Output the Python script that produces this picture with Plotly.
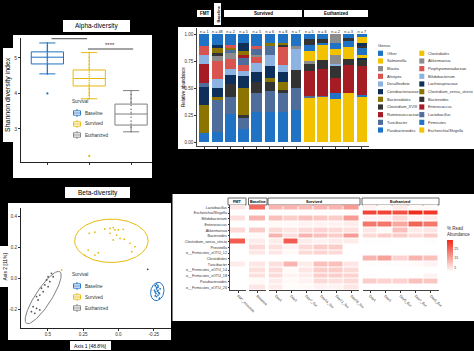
import numpy as np
import plotly.graph_objects as go

W, H = 474, 351
def px(x): return x / W
def py(y): return 1 - y / H

FONT = "Liberation Sans, Arial, sans-serif"

# ---------------- Alpha diversity (box plot) ----------------
alpha_groups = ["Baseline", "Survived", "Euthanized"]
alpha_colors = ["#1f72c4", "#e8b90c", "#7f7f7f"]
alpha_lower = [4.55, 3.85, 2.92]
alpha_q1 = [4.83, 4.21, 3.11]
alpha_median = [5.02, 4.42, 3.42]
alpha_q3 = [5.17, 4.66, 3.70]
alpha_upper = [5.42, 5.15, 4.08]
alpha_out_baseline = [4.0]
alpha_out_survived = [2.24]
alpha_out_euth = []
alpha_pts_baseline = [5.42, 5.35, 5.3, 5.25, 5.2, 5.17, 5.12, 5.08, 5.05, 5.02, 5.0, 4.97,
                      4.93, 4.88, 4.83, 4.78, 4.72, 4.66, 4.6, 4.55]
alpha_pts_survived = [5.15, 5.02, 4.92, 4.82, 4.72, 4.66, 4.6, 4.53, 4.47, 4.42, 4.37, 4.3,
                      4.25, 4.21, 4.12, 4.02, 3.95, 3.85]
alpha_pts_euth = [4.08, 3.97, 3.86, 3.75, 3.66, 3.55, 3.47, 3.42, 3.33, 3.22, 3.14, 3.05, 2.92]

# ---------------- Beta diversity (PCoA) ----------------
beta_surv_x = [0.207, 0.167, 0.096, 0.060, 0.037, 0.025, 0.001, -0.034, 0.060, 0.013, -0.011,
               -0.041, -0.082, -0.117, -0.094, 0.214, 0.167, 0.143, 0.037, 0.238, 0.403]
beta_surv_y = [0.288, 0.295, 0.316, 0.320, 0.325, 0.310, 0.310, 0.314, 0.288, 0.277, 0.256,
               0.250, 0.224, 0.202, 0.170, 0.180, 0.148, 0.163, 0.245, 0.148, 0.052]
beta_euth_x = [0.474, 0.462, 0.509, 0.486, 0.521, 0.498, 0.545, 0.557, 0.580, 0.569, 0.604,
               0.580, 0.616, 0.557, 0.592, 0.533, 0.498]
beta_euth_y = [0.030, 0.008, -0.013, -0.024, -0.045, -0.056, -0.066, -0.110, -0.120, -0.142,
               -0.185, -0.196, -0.217, -0.206, -0.228, -0.088, 0.008]
beta_base_x = [-0.26, -0.27, -0.28, -0.29, -0.27, -0.26, -0.28, -0.295, -0.27, -0.255, -0.29,
               -0.28, -0.265, -0.275, -0.285, -0.27, -0.26, -0.28]
beta_base_y = [-0.05, -0.06, -0.08, -0.10, -0.12, -0.09, -0.11, -0.07, -0.04, -0.08, -0.13,
               -0.06, -0.10, -0.085, -0.095, -0.07, -0.115, -0.05]
beta_fmt_x = [-0.207]
beta_fmt_y = [0.056]
ell_cx = [-0.275, 0.05, 0.533]
ell_cy = [-0.087, 0.24, -0.126]
ell_ax = [-0.015, 0.26, -0.118]
ell_ay = [0.058, 0.0, 0.1665]
ell_bx = [0.045, 0.0, -0.048]
ell_by = [0.010, 0.14, -0.028]

# ---------------- Stacked bars (relative abundance) ----------------
bar_n_labels = ["n = 1", "n = 48", "n = 2", "n = 5", "n = 5", "n = 6", "n = 8", "n = 7",
                "n = 5", "n = 6", "n = 2", "n = 3", "n = 7"]
genera = ["Other", "Salmonella", "Blautia", "Alistipes", "Desulfovibrio", "Coriobacteriaceae",
          "Bacteroidales", "Clostridium_XVIII", "Ruminococcaceae", "Turicibacter", "Parabacteroides",
          "Clostridiales", "Akkermansia", "Porphyromonadaceae", "Bifidobacterium", "Lachnospiraceae",
          "Clostridium_sensu_stricto", "Bacteroides", "Enterococcus", "Lactobacillus", "Firmicutes",
          "Escherichia/Shigella"]
palette = ["#1f72c4", "#f2c200", "#8c8c8c", "#d9534f", "#8db3e2", "#0e2f5a",
           "#8b7500", "#333333", "#a61c24", "#4f6d9a"]
g_other = [0.11, 0.10, 0.10, 0.08, 0.11, 0.08, 0.08, 0.11, 0.05, 0.05, 0.00, 0.04, 0.03]
g_salmonella = [0, 0, 0, 0, 0, 0, 0, 0, 0, 0, 0, 0, 0.05]
g_blautia = [0, 0, 0, 0, 0, 0, 0, 0, 0, 0, 0.08, 0, 0]
g_alistipes = [0.08, 0, 0.03, 0, 0.03, 0, 0, 0, 0, 0, 0, 0, 0]
g_desulfovibrio = [0.09, 0, 0, 0, 0, 0, 0, 0, 0, 0, 0, 0, 0]
g_coriobacteriaceae = [0, 0.03, 0, 0.08, 0, 0, 0, 0, 0, 0, 0, 0, 0.03]
g_bacteroidales = [0, 0.05, 0.02, 0.03, 0, 0.03, 0.02, 0, 0, 0, 0, 0, 0]
g_clostridium_xviii = [0, 0.02, 0, 0, 0, 0, 0.02, 0, 0.05, 0.03, 0, 0.02, 0.02]
g_ruminococcaceae = [0.17, 0, 0, 0.03, 0, 0, 0, 0, 0, 0, 0, 0, 0]
g_turicibacter = [0.04, 0, 0.03, 0.07, 0.05, 0.08, 0, 0, 0, 0, 0, 0, 0]
g_parabacteroides = [0, 0, 0, 0, 0, 0, 0, 0, 0.06, 0.02, 0.06, 0.06, 0.06]
g_clostridiales = [0, 0, 0, 0, 0, 0, 0, 0, 0.09, 0.14, 0.05, 0.11, 0.03]
g_akkermansia = [0, 0.05, 0.05, 0, 0.02, 0, 0, 0.03, 0.03, 0, 0.09, 0, 0]
g_porphyromonadaceae = [0, 0.17, 0.09, 0.05, 0.06, 0, 0.17, 0, 0, 0, 0, 0, 0]
g_bifidobacterium = [0, 0.08, 0.06, 0.05, 0.08, 0.11, 0.06, 0.19, 0, 0, 0.02, 0, 0]
g_lachnospiraceae = [0.17, 0.08, 0.08, 0.11, 0.09, 0.11, 0.09, 0, 0, 0, 0, 0, 0.02]
g_clostridium_ss = [0.26, 0.03, 0, 0.25, 0, 0.03, 0.08, 0, 0, 0, 0, 0, 0]
g_bacteroides = [0, 0, 0.12, 0.03, 0.11, 0.09, 0.03, 0.17, 0.06, 0.08, 0.11, 0.06, 0.06]
g_enterococcus = [0, 0, 0, 0, 0, 0, 0, 0, 0.23, 0.25, 0.14, 0.26, 0.26]
g_lactobacillus = [0, 0.30, 0.16, 0.10, 0.17, 0.19, 0.17, 0.20, 0.02, 0.01, 0, 0, 0]
g_firmicutes = [0.08, 0.09, 0.26, 0.12, 0.28, 0.28, 0.28, 0.30, 0, 0, 0.05, 0, 0.02]
g_escherichia = [0, 0, 0, 0, 0, 0, 0, 0, 0.41, 0.42, 0.40, 0.45, 0.42]
genus_values = [g_other, g_salmonella, g_blautia, g_alistipes, g_desulfovibrio, g_coriobacteriaceae,
                g_bacteroidales, g_clostridium_xviii, g_ruminococcaceae, g_turicibacter, g_parabacteroides,
                g_clostridiales, g_akkermansia, g_porphyromonadaceae, g_bifidobacterium, g_lachnospiraceae,
                g_clostridium_ss, g_bacteroides, g_enterococcus, g_lactobacillus, g_firmicutes, g_escherichia]
bar_groups = ["FMT", "Baseline", "Survived", "Euthanized"]

# ---------------- Heatmap (% read abundance) ----------------
heat_rows = ["Lactobacillus", "Escherichia/Shigella", "Bifidobacterium", "Enterococcus", "Akkermansia",
             "Bacteroides", "Clostridium_sensu_stricto", "Prevotella", "o__Firmicutes_zOTU_12",
             "Clostridiales", "Turicibacter", "o__Firmicutes_zOTU_14", "o__Firmicutes_zOTU_18",
             "Parabacteroides", "o__Firmicutes_zOTU_26"]
heat_cols_fmt = ["FMT_inoculum"]
heat_cols_base = ["Baseline"]
heat_cols_surv = ["Day1", "Day3", "Day7_Sur", "Day14_Sur", "Day21_Sur", "Day28_Sur"]
heat_cols_euth = ["Day1", "Day3", "Day5_Eut", "Day7_Eut", "Day9_Eut"]
h_lactobacillus = [4, 24, 12, 12, 11, 12, 12, 16, 2, 1, 3, 1, 1]
h_escherichia = [0, 0, 0.5, 0.5, 0.5, 0.5, 0.5, 0.5, 30, 30, 28, 34, 32]
h_bifidobacterium = [5, 12, 10, 8, 10, 9, 8, 16, 2, 2, 6, 2, 3]
h_enterococcus = [0, 0, 1, 1, 2, 2, 2, 3, 22, 22, 14, 25, 22]
h_akkermansia = [6, 8, 6, 4, 6, 7, 6, 5, 4, 1, 10, 3, 4]
h_bacteroides = [0, 1, 12, 5, 12, 10, 8, 16, 6, 8, 8, 6, 8]
h_clostridium_ss = [26, 3, 3, 26, 3, 2, 3, 3, 0.5, 0.5, 0, 0, 0.5]
h_prevotella = [0, 6, 5, 2, 6, 8, 8, 0, 0, 0, 0, 0, 0]
h_zotu12 = [0, 4, 4, 1, 6, 7, 6, 0, 0, 0, 0, 0, 0.5]
h_clostridiales = [0, 0, 0, 0, 0, 0, 0, 0, 12, 15, 7, 12, 10]
h_turicibacter = [3, 4, 5, 12, 3, 10, 10, 4, 0.5, 0.5, 0.5, 1, 2]
h_zotu14 = [0, 5, 6, 1, 4, 8, 8, 6, 0, 0, 0, 0, 0]
h_zotu18 = [0, 5, 6, 2, 3, 8, 8, 7, 0.5, 0, 0, 0, 2]
h_parabacteroides = [0, 1, 3, 1, 2, 6, 5, 6, 8, 7, 7, 10, 9]
h_zotu26 = [0, 4, 3, 0.5, 1, 2, 2, 4, 0, 0, 0, 0, 0]
heat_matrix = [h_lactobacillus, h_escherichia, h_bifidobacterium, h_enterococcus, h_akkermansia,
               h_bacteroides, h_clostridium_ss, h_prevotella, h_zotu12, h_clostridiales,
               h_turicibacter, h_zotu14, h_zotu18, h_parabacteroides, h_zotu26]
heat_tickvals = [5, 15, 25]

# =========================================================
fig = go.Figure()
shapes = []
annotations = []

def rect(x0, y0, x1, y1, fill="white", line=None, lw=0.0):
    shapes.append(dict(type="rect", xref="paper", yref="paper", x0=px(x0), x1=px(x1),
                       y0=py(y1), y1=py(y0), fillcolor=fill, layer="below",
                       line=dict(color=line or fill, width=lw)))

def text(t, x, y, size, xa="center", ya="middle", angle=0, color="black", bold=False):
    if bold:
        t = "<b>" + t + "</b>"
    annotations.append(dict(text=t, x=px(x), y=py(y), xref="paper", yref="paper",
                            xanchor=xa, yanchor=ya, showarrow=False, textangle=angle,
                            font=dict(size=size, color=color, family=FONT), borderpad=0))

# ---- panels / label boxes ----
rect(13, 35, 152, 178)                      # alpha panel
rect(63, 20, 130, 32)
text("Alpha-diversity", 96.5, 26, 6.5)
rect(3, 48, 13, 142)
text("Shannon diversity index", 8, 95, 7, angle=-90)

rect(178, 27, 474, 149)                     # bars panel
rect(197, 10, 211, 17); text("FMT", 204, 13.5, 4.5, bold=True)
rect(214, 3, 221, 25); text("Baseline", 217.5, 14, 4, angle=-90, bold=True)
rect(224, 10, 302, 17); text("Survived", 263, 13.5, 4.5, bold=True)
rect(304, 10, 368, 17); text("Euthanized", 336, 13.5, 4.5, bold=True)
text("Relative abundance", 183, 87, 4.5, angle=-90)

rect(8, 203, 171, 340)                      # beta panel
rect(65, 187, 130, 198)
text("Beta-diversity", 97.5, 192.5, 6.5)
rect(0, 246, 8, 287)
text("Axis 2 [11%]", 4, 266.5, 5, angle=-90)
rect(70, 341, 111, 350)
text("Axis 1 [48.8%]", 90.5, 345.5, 5)

rect(172.5, 194, 474, 321)                  # heatmap panel
for lab, x0, x1 in [("FMT", 228, 246), ("Baseline", 248.5, 267), ("Survived", 268, 360),
                    ("Euthanized", 362, 439)]:
    rect(x0, 198, x1, 205, fill="white", line="#444444", lw=0.8)
    text(lab, (x0 + x1) / 2, 201.5, 3.8, bold=True)

# ---- legends for alpha / beta ----
def box_legend(top_y, ys):
    text("Survival", 71, top_y, 4.6, xa="left", color="#333333")
    for i, g in enumerate(alpha_groups):
        c = alpha_colors[i]
        yc = ys[i]
        shapes.append(dict(type="rect", xref="paper", yref="paper", x0=px(73.5), x1=px(80.5),
                           y0=py(yc + 2.2), y1=py(yc - 2.2), line=dict(color=c, width=0.9),
                           fillcolor="white"))
        shapes.append(dict(type="line", xref="paper", yref="paper", x0=px(73.5), x1=px(80.5),
                           y0=py(yc), y1=py(yc), line=dict(color=c, width=0.9)))
        shapes.append(dict(type="line", xref="paper", yref="paper", x0=px(77), x1=px(77),
                           y0=py(yc - 2.2), y1=py(yc - 4), line=dict(color=c, width=0.9)))
        shapes.append(dict(type="line", xref="paper", yref="paper", x0=px(77), x1=px(77),
                           y0=py(yc + 2.2), y1=py(yc + 4), line=dict(color=c, width=0.9)))
        text(g, 84, yc, 4.6, xa="left", color="#333333")

box_legend(101, [113, 124, 135])
box_legend(274.3, [286, 297, 308])

# ---- genus legend ----
text("Genus", 377, 45.5, 4.2, xa="left", color="#333333")
for k, g in enumerate(genera):
    col = k // 11
    row = k % 11
    yc = 53.3 + row * 7.67
    sx = 378 if col == 0 else 419.3
    shapes.append(dict(type="rect", xref="paper", yref="paper", x0=px(sx), x1=px(sx + 5),
                       y0=py(yc + 2.6), y1=py(yc - 2.6), fillcolor=palette[k % 10],
                       line=dict(width=0)))
    text(g, sx + 8, yc, 3.9, xa="left", color="#333333")

# ---- alpha traces ----
alpha_pts = [alpha_pts_baseline, alpha_pts_survived, alpha_pts_euth]
alpha_outs = [alpha_out_baseline, alpha_out_survived, alpha_out_euth]
for i, g in enumerate(alpha_groups):
    fig.add_trace(go.Box(x=[i], q1=[alpha_q1[i]], median=[alpha_median[i]], q3=[alpha_q3[i]],
                         lowerfence=[alpha_lower[i]], upperfence=[alpha_upper[i]], width=0.77,
                         line=dict(color=alpha_colors[i], width=1), fillcolor="rgba(255,255,255,0)",
                         boxpoints=False, xaxis="x", yaxis="y", name=g))
    fig.add_trace(go.Scatter(x=[i] * len(alpha_pts[i]), y=alpha_pts[i], mode="markers",
                             marker=dict(size=1.6, color=alpha_colors[i]), xaxis="x", yaxis="y"))
    if alpha_outs[i]:
        fig.add_trace(go.Scatter(x=[i] * len(alpha_outs[i]), y=alpha_outs[i], mode="markers",
                                 marker=dict(size=2.2, color=alpha_colors[i]), xaxis="x", yaxis="y"))
shapes.append(dict(type="line", xref="x", yref="y", x0=0.1, x1=0.95, y0=5.54, y1=5.54,
                   line=dict(color="#333333", width=0.9)))
shapes.append(dict(type="line", xref="x", yref="y", x0=0.97, x1=2.05, y0=5.25, y1=5.25,
                   line=dict(color="#333333", width=0.9)))
annotations.append(dict(text="****", x=1.5, y=5.25, xref="x", yref="y", showarrow=False,
                        yanchor="bottom", font=dict(size=6, color="#333333", family=FONT),
                        borderpad=0))

# ---- bars ----
bar_x = list(range(len(bar_n_labels)))
for k in reversed(range(len(genera))):
    fig.add_trace(go.Bar(x=bar_x, y=genus_values[k], width=0.8, name=genera[k],
                         marker=dict(color=palette[k % 10], line=dict(width=0)),
                         xaxis="x2", yaxis="y2"))
fig.add_trace(go.Scatter(x=bar_x, y=[1.0] * len(bar_x), text=bar_n_labels, mode="text",
                         textposition="top center", textfont=dict(size=3.8, color="#222222"),
                         cliponaxis=False, xaxis="x2", yaxis="y2"))

# ---- beta ----
t = np.linspace(0, 2 * np.pi, 120)
for i in range(3):
    ex = ell_cx[i] + np.cos(t) * ell_ax[i] + np.sin(t) * ell_bx[i]
    ey = ell_cy[i] + np.cos(t) * ell_ay[i] + np.sin(t) * ell_by[i]
    fig.add_trace(go.Scatter(x=ex, y=ey, mode="lines", line=dict(color=alpha_colors[i], width=1),
                             xaxis="x3", yaxis="y3"))
for xs, ys, c in [(beta_surv_x, beta_surv_y, alpha_colors[1]), (beta_euth_x, beta_euth_y, "#555555"),
                  (beta_base_x, beta_base_y, alpha_colors[0]), (beta_fmt_x, beta_fmt_y, "#444444")]:
    fig.add_trace(go.Scatter(x=xs, y=ys, mode="markers", marker=dict(size=1.8, color=c),
                             xaxis="x3", yaxis="y3"))

# ---- heatmap ----
facets = [(heat_cols_fmt, 0, 1, "x4"), (heat_cols_base, 1, 2, "x5"),
          (heat_cols_surv, 2, 8, "x6"), (heat_cols_euth, 8, 13, "x7")]
for cols, a, b, ax in facets:
    fig.add_trace(go.Heatmap(x=cols, y=heat_rows, z=[r[a:b] for r in heat_matrix],
                             coloraxis="coloraxis", xgap=1, ygap=1, xaxis=ax, yaxis="y4"))

axis_font = dict(family=FONT, color="#333333")
def ax_common(**kw):
    d = dict(showgrid=False, zeroline=False, showline=True, linecolor="#222222", linewidth=0.8,
             ticks="outside", ticklen=2, tickwidth=0.7, tickcolor="#333333", automargin=False)
    d.update(kw)
    return d

fig.update_layout(
    width=W, height=H, margin=dict(l=0, r=0, t=0, b=0),
    paper_bgcolor="black", plot_bgcolor="white", showlegend=False, barmode="stack",
    font=dict(family=FONT),
    xaxis=ax_common(domain=[px(21), px(152)], range=[-0.63, 2.5], tickvals=[0, 1, 2],
                    showticklabels=False, anchor="y"),
    yaxis=ax_common(domain=[py(162), py(38)], range=[2.07, 5.56], tickvals=[3, 4, 5],
                    tickfont=dict(size=5, **axis_font), anchor="x"),
    xaxis2=ax_common(domain=[px(197), px(369)], range=[-0.55, 12.55], tickvals=bar_x,
                     showticklabels=False, anchor="y2", linecolor="#444444"),
    yaxis2=ax_common(domain=[py(146), py(28)], range=[-0.037, 1.056],
                     tickvals=[0, 0.25, 0.5, 0.75, 1.0],
                     ticktext=["0.00", "0.25", "0.50", "0.75", "1.00"],
                     tickfont=dict(size=4.5, **axis_font), anchor="x2", linecolor="#444444"),
    xaxis3=ax_common(domain=[px(21), px(171)], range=[0.69, -0.372],
                     tickvals=[0.5, 0.25, 0.0, -0.25], ticktext=["0.5", "0.25", "0.0", "-0.25"],
                     tickfont=dict(size=4.6, **axis_font), anchor="y3"),
    yaxis3=ax_common(domain=[py(328), py(208)], range=[-0.3226, 0.4516],
                     tickvals=[-0.2, 0.0, 0.2, 0.4], ticktext=["-0.2", "0.0", "0.2", "0.4"],
                     tickfont=dict(size=4.6, **axis_font), anchor="x3"),
    yaxis4=ax_common(domain=[py(290.2), py(204.5)], categoryorder="array", categoryarray=heat_rows,
                     autorange="reversed", tickfont=dict(size=3.7, **axis_font), ticklen=1.5,
                     anchor="x4", linecolor="#444444", linewidth=0.6),
    xaxis4=ax_common(domain=[px(230), px(246)], anchor="y4", tickangle=45, ticklen=1.5,
                     tickfont=dict(size=3.5, **axis_font), linecolor="#444444", linewidth=0.6),
    xaxis5=ax_common(domain=[px(249), px(266)], anchor="y4", tickangle=45, ticklen=1.5,
                     tickfont=dict(size=3.5, **axis_font), linecolor="#444444", linewidth=0.6),
    xaxis6=ax_common(domain=[px(268.5), px(359)], anchor="y4", tickangle=45, ticklen=1.5,
                     tickfont=dict(size=3.5, **axis_font), linecolor="#444444", linewidth=0.6),
    xaxis7=ax_common(domain=[px(362.5), px(438.5)], anchor="y4", tickangle=45, ticklen=1.5,
                     tickfont=dict(size=3.5, **axis_font), linecolor="#444444", linewidth=0.6),
    coloraxis=dict(colorscale=[[0, "#ffffff"], [1, "#ef2b1b"]], cmin=0, cmax=34,
                   colorbar=dict(x=px(447), xanchor="left", y=py(248), yanchor="middle",
                                 len=48, lenmode="pixels", thickness=6, thicknessmode="pixels",
                                 outlinewidth=0, xpad=0, ypad=0, ticks="", tickvals=heat_tickvals,
                                 tickfont=dict(size=3.5, **axis_font),
                                 title=dict(text="% Read<br>Abundance", side="top",
                                            font=dict(size=4.5, **axis_font)))),
    shapes=shapes, annotations=annotations,
)

fig.write_html("out.html")
